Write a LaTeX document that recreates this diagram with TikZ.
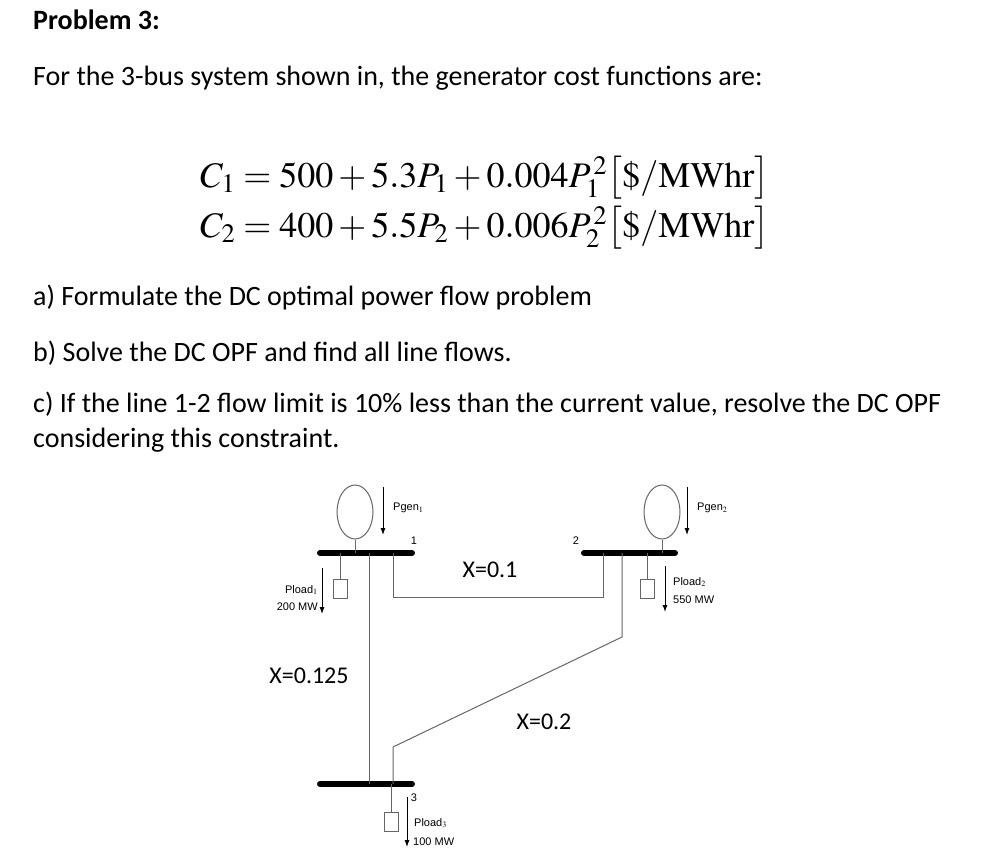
\documentclass[tikz,border=0pt]{standalone}
\usepackage{fontspec}
\usepackage{amsmath}
\usepackage{mathptmx}
\setmainfont{Carlito}
\newfontfamily\arl{Liberation Sans}
\begin{document}
\begin{tikzpicture}[x=1pt,y=-1pt,
  bus/.style={line width=6pt,line cap=round},
  ln/.style={draw=black!60,line width=1pt},
  arr/.style={draw=black,line width=0.9pt,-{Latex[length=7pt,width=5pt]}},
  lbox/.style={draw=black!60,line width=1pt,minimum width=14pt,minimum height=19pt,inner sep=0pt},
  gen/.style={draw=black!60,line width=1pt,ellipse,minimum width=36pt,minimum height=54pt,inner sep=0pt},
  sm/.style={font=\arl\fontsize{11}{13}\selectfont,inner sep=0pt},
  body/.style={font=\fontsize{28}{32}\selectfont,anchor=west,inner sep=0pt},
  xl/.style={font=\fontsize{24}{28}\selectfont,inner sep=0pt}]
\useasboundingbox (0,0) rectangle (984,858);
\usetikzlibrary{arrows.meta,shapes.geometric}
\node[body,font=\bfseries\fontsize{28}{32}\selectfont] (t0) at (33,20) {Problem 3:};
\node[body] (t1) at (33,78) {For the 3-bus system shown in, the generator cost functions are:};
\node[anchor=west,inner sep=0pt,font=\fontsize{36}{40}\selectfont] (e1) at (200,178) {$C_1=500+5.3P_1+0.004P_1^{\,2}\big[\$/\mathrm{MWhr}\big]$};
\node[anchor=west,inner sep=0pt,font=\fontsize{36}{40}\selectfont] (e2) at (200,228) {$C_2=400+5.5P_2+0.006P_2^{\,2}\big[\$/\mathrm{MWhr}\big]$};
\node[body] (ta) at (33,298) {a) Formulate the DC optimal power flow problem};
\node[body] (tb) at (33,353) {b) Solve the DC OPF and find all line flows.};
\node[body] (tc) at (33,404) {c) If the line 1-2 flow limit is 10\% less than the current value, resolve the DC OPF};
\node[body] (td) at (33,440) {considering this constraint.};
% buses
\coordinate (b1l) at (320,553); \coordinate (b1r) at (412,553);
\coordinate (b2l) at (584,553); \coordinate (b2r) at (675,553);
\coordinate (b3l) at (320,784); \coordinate (b3r) at (412,784);
\draw[bus] (b1l) -- (b1r);
\draw[bus] (b2l) -- (b2r);
\draw[bus] (b3l) -- (b3r);
% generators
\node[gen] (g1) at (355,512) {};
\node[gen] (g2) at (662,512) {};
\draw[ln] (g1.south) -- (355,553);
\draw[ln] (g2.south) -- (662,553);
\coordinate (pg1a) at (383,487); \coordinate (pg1b) at (383,535);
\draw[arr] (pg1a) -- (pg1b);
\coordinate (pg2a) at (687,487); \coordinate (pg2b) at (687,535);
\draw[arr] (pg2a) -- (pg2b);
\node[sm,anchor=west] (lpg1) at (393,508) {Pgen$_1$};
\node[sm,anchor=west] (lpg2) at (697,508) {Pgen$_2$};
\node[sm] (n1) at (414,541) {1};
\node[sm] (n2) at (576,541) {2};
\node[sm] (n3) at (414,798) {3};
% loads
\node[lbox] (ld1) at (340,589) {};
\node[lbox] (ld2) at (647,589) {};
\node[lbox] (ld3) at (391,822) {};
\draw[ln] (340,553) -- (ld1.north);
\draw[ln] (647,553) -- (ld2.north);
\draw[ln] (391,784) -- (ld3.north);
\coordinate (pl1a) at (322,568); \coordinate (pl1b) at (322,614);
\draw[arr] (pl1a) -- (pl1b);
\coordinate (pl2a) at (665,566); \coordinate (pl2b) at (665,612);
\draw[arr] (pl2a) -- (pl2b);
\coordinate (pl3a) at (407,797); \coordinate (pl3b) at (407,847);
\draw[arr] (pl3a) -- (pl3b);
\node[sm,anchor=east] (lp1) at (318,590) {Pload$_1$};
\node[sm,anchor=east] (lp1b) at (318,607) {200 MW};
\node[sm,anchor=west] (lp2) at (673,582) {Pload$_2$};
\node[sm,anchor=west] (lp2b) at (673,600) {550 MW};
\node[sm,anchor=west] (lp3) at (414,823) {Pload$_3$};
\node[sm,anchor=west] (lp3b) at (413,842) {100 MW};
% lines
\draw[ln] (393,553) -- (393,597) -- (603,597) -- (603,553);
\draw[ln] (369,553) -- (369,784);
\draw[ln] (622,553) -- (622,637) -- (393,747) -- (393,784);
\node[xl] (x1) at (490,570) {X=0.1};
\node[xl] (x2) at (309,676) {X=0.125};
\node[xl] (x3) at (544,722) {X=0.2};
\end{tikzpicture}
\end{document}
